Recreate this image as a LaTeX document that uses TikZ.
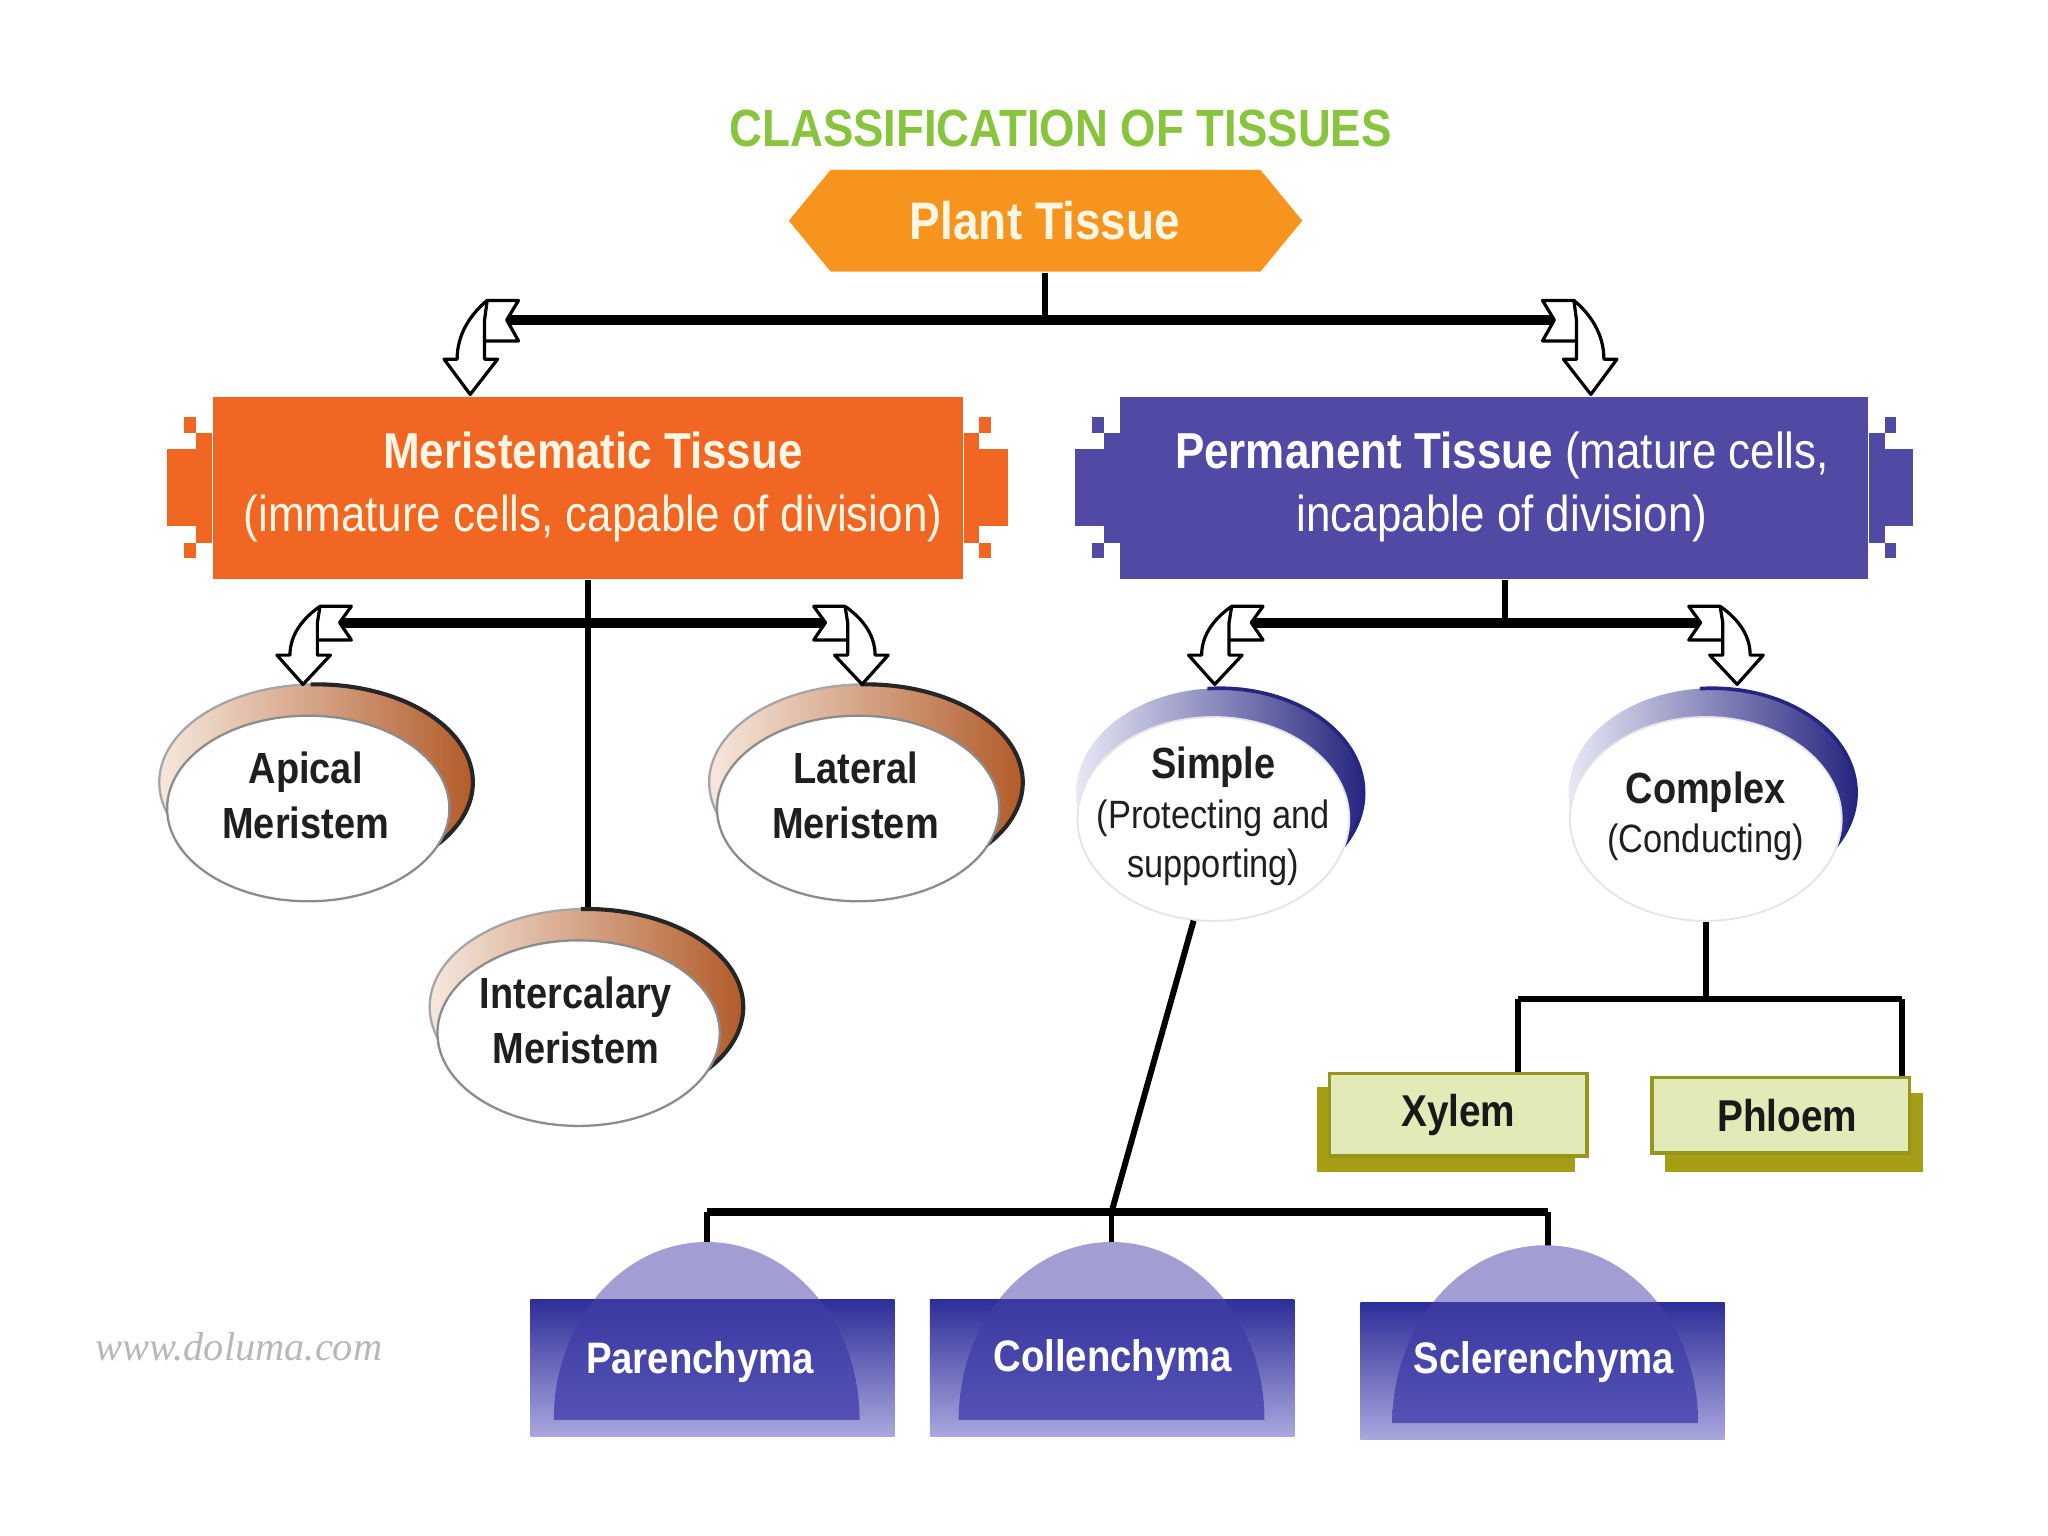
\documentclass[tikz,border=0pt]{standalone}
\usepackage{fontspec}
\setmainfont{Liberation Sans}[FakeStretch=0.87]
\newfontfamily\wmfont{Liberation Serif}
\usetikzlibrary{shapes.geometric,calc}
\definecolor{titlegreen}{RGB}{136,196,62}
\definecolor{plantorange}{RGB}{247,148,30}
\definecolor{meriorange}{RGB}{241,102,35}
\definecolor{permpurple}{RGB}{80,74,165}
\definecolor{creamtext}{RGB}{255,246,228}
\definecolor{brownL}{RGB}{246,232,222}
\definecolor{brownD}{RGB}{178,92,42}
\definecolor{blueL}{RGB}{232,232,246}
\definecolor{blueD}{RGB}{38,38,128}
\definecolor{xylemfill}{RGB}{226,235,183}
\definecolor{xylemedge}{RGB}{150,150,30}
\definecolor{xylemdark}{RGB}{165,158,20}
\definecolor{bboxtop}{RGB}{46,46,152}
\definecolor{bboxbot}{RGB}{170,168,222}
\definecolor{bboxmid}{RGB}{84,82,180}
\definecolor{domecol}{RGB}{162,158,212}
\tikzset{
  bar/.style={line width=2.1pt, draw=black},
  midbar/.style={line width=1.7pt, draw=black},
  stem/.style={line width=1.3pt, draw=black},
  arrowline/.style={draw=black, line width=0.7pt, line join=round},
  pics/bentarrow/.style={code={
    \draw[arrowline, fill=white] (37,72) -- (13,72) .. controls (1,62) and (-10,47) .. (-10,27) -- (-20,27) -- (0,0) -- (21,27) -- (11,27) -- (11,41) -- (37,41) -- (28,57) -- cycle;
    \draw[arrowline] (11,41) -- (11,57) -- (13,72);
  }},
  pics/pixdeco/.style={code={
    \fill[#1] (-12,-42) rectangle (0,42);
    \fill[#1] (-34,-29) rectangle (0,30);
    \fill[#1] (-21,-54) rectangle (-12,-42);
    \fill[#1] (-21,42) rectangle (-12,54);
  }},
  tissuetext/.style={text=creamtext, align=center, font=\fontsize{11}{13.7}\selectfont},
  ringtext/.style={align=center, text=black!88, font=\bfseries\fontsize{9.5}{12}\selectfont},
  subtext/.style={align=center, text=black!88, font=\fontsize{8.6}{10.8}\selectfont},
  greenbox/.style={draw=xylemedge, line width=0.8pt, fill=xylemfill, inner sep=0pt, font=\bfseries\fontsize{9.7}{11}\selectfont, text=black!90},
}
\newcommand\merring[3]{%
\begin{scope}[shift={#2}]
  \shade[left color=brownL, right color=brownD] (6,20) ellipse[x radius=1.2cm, y radius=0.75cm];
  \draw[black!35, line width=0.5pt] (6,20) ellipse[x radius=1.2cm, y radius=0.75cm];
  \draw[black!85, line width=0.9pt] (6,20) ++(92:1.2cm and 0.75cm) arc[start angle=92, end angle=-45, x radius=1.2cm, y radius=0.75cm];
  \node[ellipse, fill=white, draw=black!45, line width=0.5pt, minimum width=2.16cm, minimum height=1.42cm, inner sep=0pt] (#1) at (0,0) {};
  \node[ringtext] at (-2,10) {#3};
\end{scope}}
\newcommand\permring[3]{%
\begin{scope}[shift={#2}]
  \shade[left color=blueL, right color=blueD] (5,20) ellipse[x radius=1.1cm, y radius=0.8cm];
  \draw[blueD, line width=0.8pt] (5,20) ++(95:1.1cm and 0.8cm) arc[start angle=95, end angle=-40, x radius=1.1cm, y radius=0.8cm];
  \node[ellipse, fill=white, draw=black!10, minimum width=2.08cm, minimum height=1.56cm, inner sep=0pt] (#1) at (0,0) {};
  \node[subtext] at (0,2) {#3};
\end{scope}}
\newcommand\tissuebox[5]{%
\begin{scope}[shift={#2}]
  \fill[domecol] ({#3-117},-39.5) arc[start angle=180, end angle=0, x radius=1.17cm, y radius=1.36cm] -- cycle;
  \shade[top color=bboxtop, bottom color=bboxbot] (-139.5,-52.5) rectangle (139.5,52.5);
  \begin{scope}
    \clip (-139.5,-52.5) rectangle (139.5,52.5);
    \shade[top color=bboxtop, bottom color=bboxmid] ({#3-117},-39.5) arc[start angle=180, end angle=0, x radius=1.17cm, y radius=1.36cm] -- cycle;
  \end{scope}
  \node[minimum width=2.79cm, minimum height=1.05cm, inner sep=0pt] (#1) at (0,0) {};
  \node[text=white, font=\bfseries\fontsize{9.6}{11}\selectfont] at #4 {#5};
\end{scope}}
\begin{document}
\begin{tikzpicture}[x=0.01cm, y=0.01cm]
\useasboundingbox (0,0) rectangle (1568,-1176);
\fill[white] (0,0) rectangle (1568,-1176);

% title
\node[font=\bfseries\fontsize{11.4}{13}\selectfont, text=titlegreen] (title) at (812,-98) {CLASSIFICATION OF TISSUES};

% plant tissue
\fill[plantorange] (604,-169) -- (636,-130) -- (965,-130) -- (997,-169) -- (965,-208) -- (636,-208) -- cycle;
\node[minimum width=3.93cm, minimum height=0.78cm, inner sep=0pt, text=creamtext, font=\bfseries\fontsize{11.5}{13}\selectfont] (plant) at (800,-169) {Plant Tissue};

% level 1 connectors
\coordinate (n1l) at (388,-245);
\coordinate (n1r) at (1190,-245);
\draw[bar] (n1l) -- (n1r);
\draw[stem] (plant.south) -- (plant.south |- n1l);
\pic at (360,-302) {bentarrow};
\pic[xscale=-1] at (1218,-302) {bentarrow};

% meristematic box
\node[fill=meriorange, minimum width=5.74cm, minimum height=1.39cm, inner sep=0pt] (meri) at (450,-373.5) {};
\pic at (meri.west) {pixdeco=meriorange};
\pic[xscale=-1] at (meri.east) {pixdeco=meriorange};
\node[tissuetext] at (454,-373) {\textbf{Meristematic Tissue}\\(immature cells, capable of division)};

% permanent box
\node[fill=permpurple, minimum width=5.72cm, minimum height=1.39cm, inner sep=0pt] (perm) at (1144,-373.5) {};
\pic at (perm.west) {pixdeco=permpurple};
\pic[xscale=-1] at (perm.east) {pixdeco=permpurple};
\node[tissuetext, text=white] at (1150,-373) {\textbf{Permanent Tissue} (mature cells,\\incapable of division)};

% meristem stem to intercalary
\coordinate (interTop) at (450,-697);
\draw[stem] (meri.south) -- (interTop);

% rings
\merring{apical}{(236,-619)}{Apical\\Meristem}
\merring{lateral}{(657,-619)}{Lateral\\Meristem}
\merring{inter}{(443,-791)}{Intercalary\\Meristem}
\permring{simple}{(929,-627)}{{\bfseries\fontsize{9.5}{11}\selectfont Simple}\\(Protecting and\\supporting)}
\permring{complex}{(1306,-627)}{{\bfseries\fontsize{9.5}{11}\selectfont Complex}\\(Conducting)}

% level 2 connectors
\coordinate (n2a) at (260,-477);
\coordinate (n2b) at (632,-477);
\draw[bar] (n2a) -- (n2b);
\coordinate (pj) at ($(perm.south)+(8,0)$);
\coordinate (n2c) at (958,-477);
\coordinate (n2d) at (1302,-477);
\draw[bar] (n2c) -- (n2d);
\draw[stem] (pj) -- (pj |- n2c);
\pic[yscale=0.83] at (232,-524) {bentarrow};
\pic[xscale=-1, yscale=0.83] at (660,-524) {bentarrow};
\pic[yscale=0.83] at (930,-524) {bentarrow};
\pic[xscale=-1, yscale=0.83] at (1330,-524) {bentarrow};

% xylem / phloem
\fill[xylemdark] (1008,-832) rectangle (1206,-897);
\node[greenbox, minimum width=1.97cm, minimum height=0.63cm] (xylem) at (1116.5,-853.5) {Xylem};
\fill[xylemdark] (1275,-837) rectangle (1472,-897);
\node[greenbox, minimum width=1.97cm, minimum height=0.58cm] (phloem) at (1363.5,-854) {\hspace*{0.1cm}Phloem};

\coordinate (xj) at (1162,-765);
\coordinate (phj) at (1456,-765);
\draw[stem] (complex.south) -- (complex.south |- xj);
\draw[stem] (xj) -- (phj);
\draw[stem] (xj) -- (xj |- xylem.north);
\draw[stem] (phj) -- (phj |- phloem.north);

% bottom connectors
\coordinate (bl) at (541,-928);
\coordinate (bm) at (851,-928);
\coordinate (br) at (1185,-928);
\draw[stem] (simple.-101) -- (bm);
\draw[midbar] (bl) -- (br);
\draw[stem] (bl) -- (541,-952);
\draw[stem] (bm) -- (851,-952);
\draw[stem] (br) -- (1185,-955);

% bottom boxes
\tissuebox{paren}{(545.5,-1047.5)}{-4.5}{(-9.5,4.5)}{Parenchyma}
\tissuebox{collen}{(851.5,-1047.5)}{-0.5}{(0.5,6.5)}{Collenchyma}
\tissuebox{scler}{(1181,-1050)}{2}{(1,7)}{Sclerenchyma}

% watermark
\node[font=\wmfont\itshape\fontsize{8.8}{10}\selectfont, text=black!28] (wm) at (183,-1031) {www.doluma.com};
\end{tikzpicture}
\end{document}
